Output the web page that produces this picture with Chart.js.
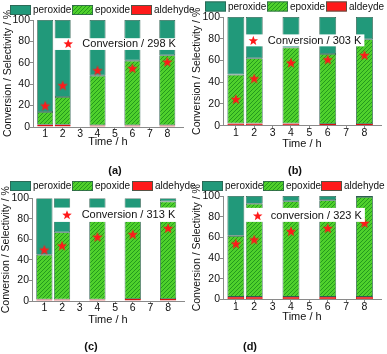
<!DOCTYPE html>
<html>
<head>
<meta charset="utf-8">
<script src="https://cdn.jsdelivr.net/npm/chart.js@4.4.0/dist/chart.umd.min.js"></script>
<style>
  body { margin: 0; background: #fff; }
  #wrap { position: relative; width: 387px; height: 354px; overflow: hidden; background: #fff; }
  canvas { position: absolute; }
</style>
</head>
<body>
<div id="wrap">
  <canvas id="panelA" width="195" height="177" style="left:0px;top:0px"></canvas>
  <canvas id="panelB" width="197" height="177" style="left:190px;top:0px"></canvas>
  <canvas id="panelC" width="195" height="177" style="left:0px;top:177px"></canvas>
  <canvas id="panelD" width="197" height="177" style="left:190px;top:177px"></canvas>
</div>
<script>
// sampling times (h) and axis ticks
const times = [1, 2, 4, 6, 8];
const xTicks = [1, 2, 3, 4, 5, 6, 7, 8];
const yTicks = [0, 20, 40, 60, 80, 100];

// (a) 298 K  - selectivity (%) per component, conversion (%)
const aldehydeA = [2, 2, 1.5, 1.5, 1.5];
const epoxideA = [12, 26, 46.5, 60.5, 65.5];
const peroxideA = [86, 72, 52, 38, 33];
const conversionA = [20, 39, 53, 55, 61];

// (b) 303 K
const aldehydeB = [2, 2, 2, 1.5, 1.5];
const epoxideB = [45, 60, 70, 64.5, 78];
const peroxideB = [53, 38, 28, 34, 20.5];
const conversionB = [24.5, 43.5, 58, 61, 65];

// (c) 313 K
const aldehydeC = [1.5, 1.5, 1.5, 2, 2];
const epoxideC = [43.5, 65.5, 88.5, 86, 95];
const peroxideC = [55, 33, 10, 12, 3];
const conversionC = [50, 54, 62.5, 65, 71];

// (d) 323 K
const aldehydeD = [2.5, 2.5, 2.5, 2.5, 2.5];
const epoxideD = [59, 90, 92.5, 93.5, 96.5];
const peroxideD = [38.5, 7.5, 5, 4, 1];
const conversionD = [54, 58, 66, 69, 74];

const legendNames = ["peroxide", "epoxide", "aldehyde"];
const legendNamesB = ["peroxide", "epoxide", "aldeyde"];

const TEAL = "#21997a";
const RED = "#ff1a1a";
const AXIS = "#8a8a8a";
const INK = "#111";
const FONT = "'Liberation Sans', Arial, sans-serif";

Chart.defaults.font.family = FONT;
Chart.defaults.color = INK;

function makeHatch() {
  const c = document.createElement("canvas");
  c.width = 4;
  c.height = 4;
  const g = c.getContext("2d");
  g.fillStyle = "#4fd02c";
  g.fillRect(0, 0, 4, 4);
  g.strokeStyle = "#249a1d";
  g.lineWidth = 1;
  g.beginPath();
  g.moveTo(0, 4); g.lineTo(4, 0);
  g.moveTo(-1, 1); g.lineTo(1, -1);
  g.moveTo(3, 5); g.lineTo(5, 3);
  g.stroke();
  return g.createPattern(c, "repeat");
}

function starPath(ctx, cx, cy, r) {
  const inner = r * 0.42;
  ctx.beginPath();
  for (let i = 0; i < 10; i++) {
    const rad = i % 2 === 0 ? r : inner;
    const a = -Math.PI / 2 + (i * Math.PI) / 5;
    const px = cx + rad * Math.cos(a);
    const py = cy + rad * Math.sin(a);
    if (i === 0) ctx.moveTo(px, py);
    else ctx.lineTo(px, py);
  }
  ctx.closePath();
}

function makeStarImage() {
  const c = document.createElement("canvas");
  c.width = 12;
  c.height = 12;
  const g = c.getContext("2d");
  starPath(g, 6, 6.5, 5.5);
  g.fillStyle = RED;
  g.fill();
  return c;
}

const starImg = makeStarImage();

// legend, white conversion box and panel letter
const panelDecor = {
  id: "panelDecor",
  afterDatasetsDraw(chart, args, opts) {
    const { ctx } = chart;
    const x = chart.scales.x;
    const y = chart.scales.y;
    const b = opts.box;
    ctx.save();
    ctx.font = b.fontSize + "px " + FONT;
    const tx = x.getPixelForValue(b.textX);
    const ty = y.getPixelForValue(b.textY);
    const w = ctx.measureText(b.text).width;
    const left = x.getPixelForValue(b.left);
    const top = y.getPixelForValue(b.top);
    const bottom = y.getPixelForValue(b.bottom);
    ctx.fillStyle = "#fff";
    ctx.fillRect(left, top, tx + w + 3 - left, bottom - top);
    starPath(ctx, x.getPixelForValue(b.starX), ty + 0.5, 5);
    ctx.fillStyle = RED;
    ctx.fill();
    ctx.fillStyle = INK;
    ctx.textBaseline = "middle";
    ctx.textAlign = "left";
    ctx.fillText(b.text, tx, ty + 0.5);
    ctx.restore();
  },
  afterDraw(chart, args, opts) {
    const { ctx } = chart;
    const lg = opts.legend;
    const sets = chart.data.datasets;
    ctx.save();
    ctx.font = "10px " + FONT;
    ctx.textBaseline = "middle";
    ctx.textAlign = "left";
    lg.names.forEach((name, i) => {
      const ds = sets.find((d) => d.key === lg.keys[i]);
      const bx = lg.xs[i];
      ctx.fillStyle = ds.backgroundColor;
      ctx.fillRect(bx, lg.y - 5, 21, 10);
      ctx.strokeStyle = "#2d5f4f";
      ctx.lineWidth = 0.8;
      ctx.strokeRect(bx + 0.4, lg.y - 4.6, 20.2, 9.2);
      ctx.fillStyle = INK;
      ctx.fillText(name, bx + 23, lg.y + 0.5);
    });
    ctx.font = "bold 11px " + FONT;
    ctx.textAlign = "center";
    ctx.fillText(opts.tag.text, opts.tag.x, opts.tag.y);
    ctx.restore();
  },
};

function makePanel(id, p) {
  const canvas = document.getElementById(id);
  const hatch = makeHatch();
  const pts = (arr) => times.map((t, i) => ({ x: t, y: arr[i] }));
  const barStyle = {
    type: "bar",
    borderWidth: 0.8,
    borderSkipped: false,
    barPercentage: 0.92,
    categoryPercentage: 1,
    stack: "sel",
  };
  return new Chart(canvas, {
    type: "bar",
    data: {
      datasets: [
        { type: "scatter", key: "conv", data: pts(p.conversion), pointStyle: starImg, pointRadius: 5, order: 0 },
        Object.assign({ key: "ald", data: pts(p.aldehyde), backgroundColor: RED, borderColor: "#d81010", order: 1 }, barStyle),
        Object.assign({ key: "epo", data: pts(p.epoxide), backgroundColor: hatch, borderColor: "#2d5f4f", order: 1 }, barStyle),
        Object.assign({ key: "per", data: pts(p.peroxide), backgroundColor: TEAL, borderColor: "#2d5f4f", order: 1 }, barStyle),
      ],
    },
    options: {
      responsive: false,
      animation: false,
      events: [],
      layout: { padding: { left: 0, right: p.padRight, top: p.padTop, bottom: 0 } },
      plugins: {
        legend: { display: false },
        tooltip: { enabled: false },
        panelDecor: { legend: p.legend, box: p.box, tag: p.tag },
      },
      scales: {
        x: {
          type: "linear",
          min: 0.3,
          max: 8.9,
          offset: false,
          stacked: true,
          afterFit: (s) => { s.height = p.xAxisHeight; },
          afterBuildTicks: (s) => { s.ticks = xTicks.map((v) => ({ value: v })); },
          ticks: { font: { size: 10.5 }, color: INK, padding: -2, maxRotation: 0 },
          grid: { drawOnChartArea: false, offset: false, tickLength: 3, color: AXIS },
          border: { color: AXIS, width: 1 },
          title: { display: true, text: "Time / h", font: { size: 11 }, color: INK, padding: { top: 0, bottom: p.xTitlePad } },
        },
        y: {
          min: 0,
          max: 100,
          stacked: true,
          afterFit: (s) => { s.width = p.yAxisWidth; },
          afterBuildTicks: (s) => { s.ticks = yTicks.map((v) => ({ value: v })); },
          ticks: { font: { size: 10.5 }, color: INK, padding: 0 },
          grid: { drawOnChartArea: false, tickLength: 3, color: AXIS },
          border: { color: AXIS, width: 1 },
          title: { display: true, text: "Conversion / Selectivity / %", font: { size: 10.5 }, color: INK, padding: { top: p.yTitlePad, bottom: 0 } },
        },
      },
    },
    plugins: [panelDecor],
  });
}

const legendKeys = ["per", "epo", "ald"];

document.addEventListener("DOMContentLoaded", () => {
  makePanel("panelA", {
    aldehyde: aldehydeA, epoxide: epoxideA, peroxide: peroxideA, conversion: conversionA,
    padTop: 20, padRight: 12, yAxisWidth: 33, xAxisHeight: 50, xTitlePad: 28.5, yTitlePad: 2,
    legend: { names: legendNames, keys: legendKeys, y: 10, xs: [10, 72, 131] },
    box: { text: "Conversion / 298 K", fontSize: 11, left: 1.5, top: 83, bottom: 72, starX: 2.32, textX: 3.13, textY: 78 },
    tag: { text: "(a)", x: 115, y: 171 },
  });
  makePanel("panelB", {
    aldehyde: aldehydeB, epoxide: epoxideB, peroxide: peroxideB, conversion: conversionB,
    padTop: 17, padRight: 2, yAxisWidth: 33, xAxisHeight: 51.3, xTitlePad: 26, yTitlePad: 0.5,
    legend: { names: legendNamesB, keys: legendKeys, y: 6.5, xs: [15, 77, 136] },
    box: { text: "Conversion / 303 K", fontSize: 11, left: 1.5, top: 84, bottom: 73, starX: 1.95, textX: 2.74, textY: 78.5 },
    tag: { text: "(b)", x: 105, y: 171 },
  });
  makePanel("panelC", {
    aldehyde: aldehydeC, epoxide: epoxideC, peroxide: peroxideC, conversion: conversionC,
    padTop: 21.3, padRight: 11, yAxisWidth: 32, xAxisHeight: 53, xTitlePad: 27, yTitlePad: 0,
    legend: { names: legendNames, keys: legendKeys, y: 9, xs: [10, 72, 132] },
    box: { text: "Conversion / 313 K", fontSize: 11, left: 1.5, top: 91, bottom: 77, starX: 2.28, textX: 3.11, textY: 84 },
    tag: { text: "(c)", x: 91, y: 170 },
  });
  makePanel("panelD", {
    aldehyde: aldehydeD, epoxide: epoxideD, peroxide: peroxideD, conversion: conversionD,
    padTop: 19, padRight: 3, yAxisWidth: 33, xAxisHeight: 54.5, xTitlePad: 30.5, yTitlePad: 0.5,
    legend: { names: legendNames, keys: legendKeys, y: 9, xs: [12, 73, 131] },
    box: { text: "conversion / 323 K", fontSize: 11, left: 1.5, top: 88.5, bottom: 75, starX: 2.19, textX: 2.9, textY: 81 },
    tag: { text: "(d)", x: 60, y: 170 },
  });
});
</script>
</body>
</html>
